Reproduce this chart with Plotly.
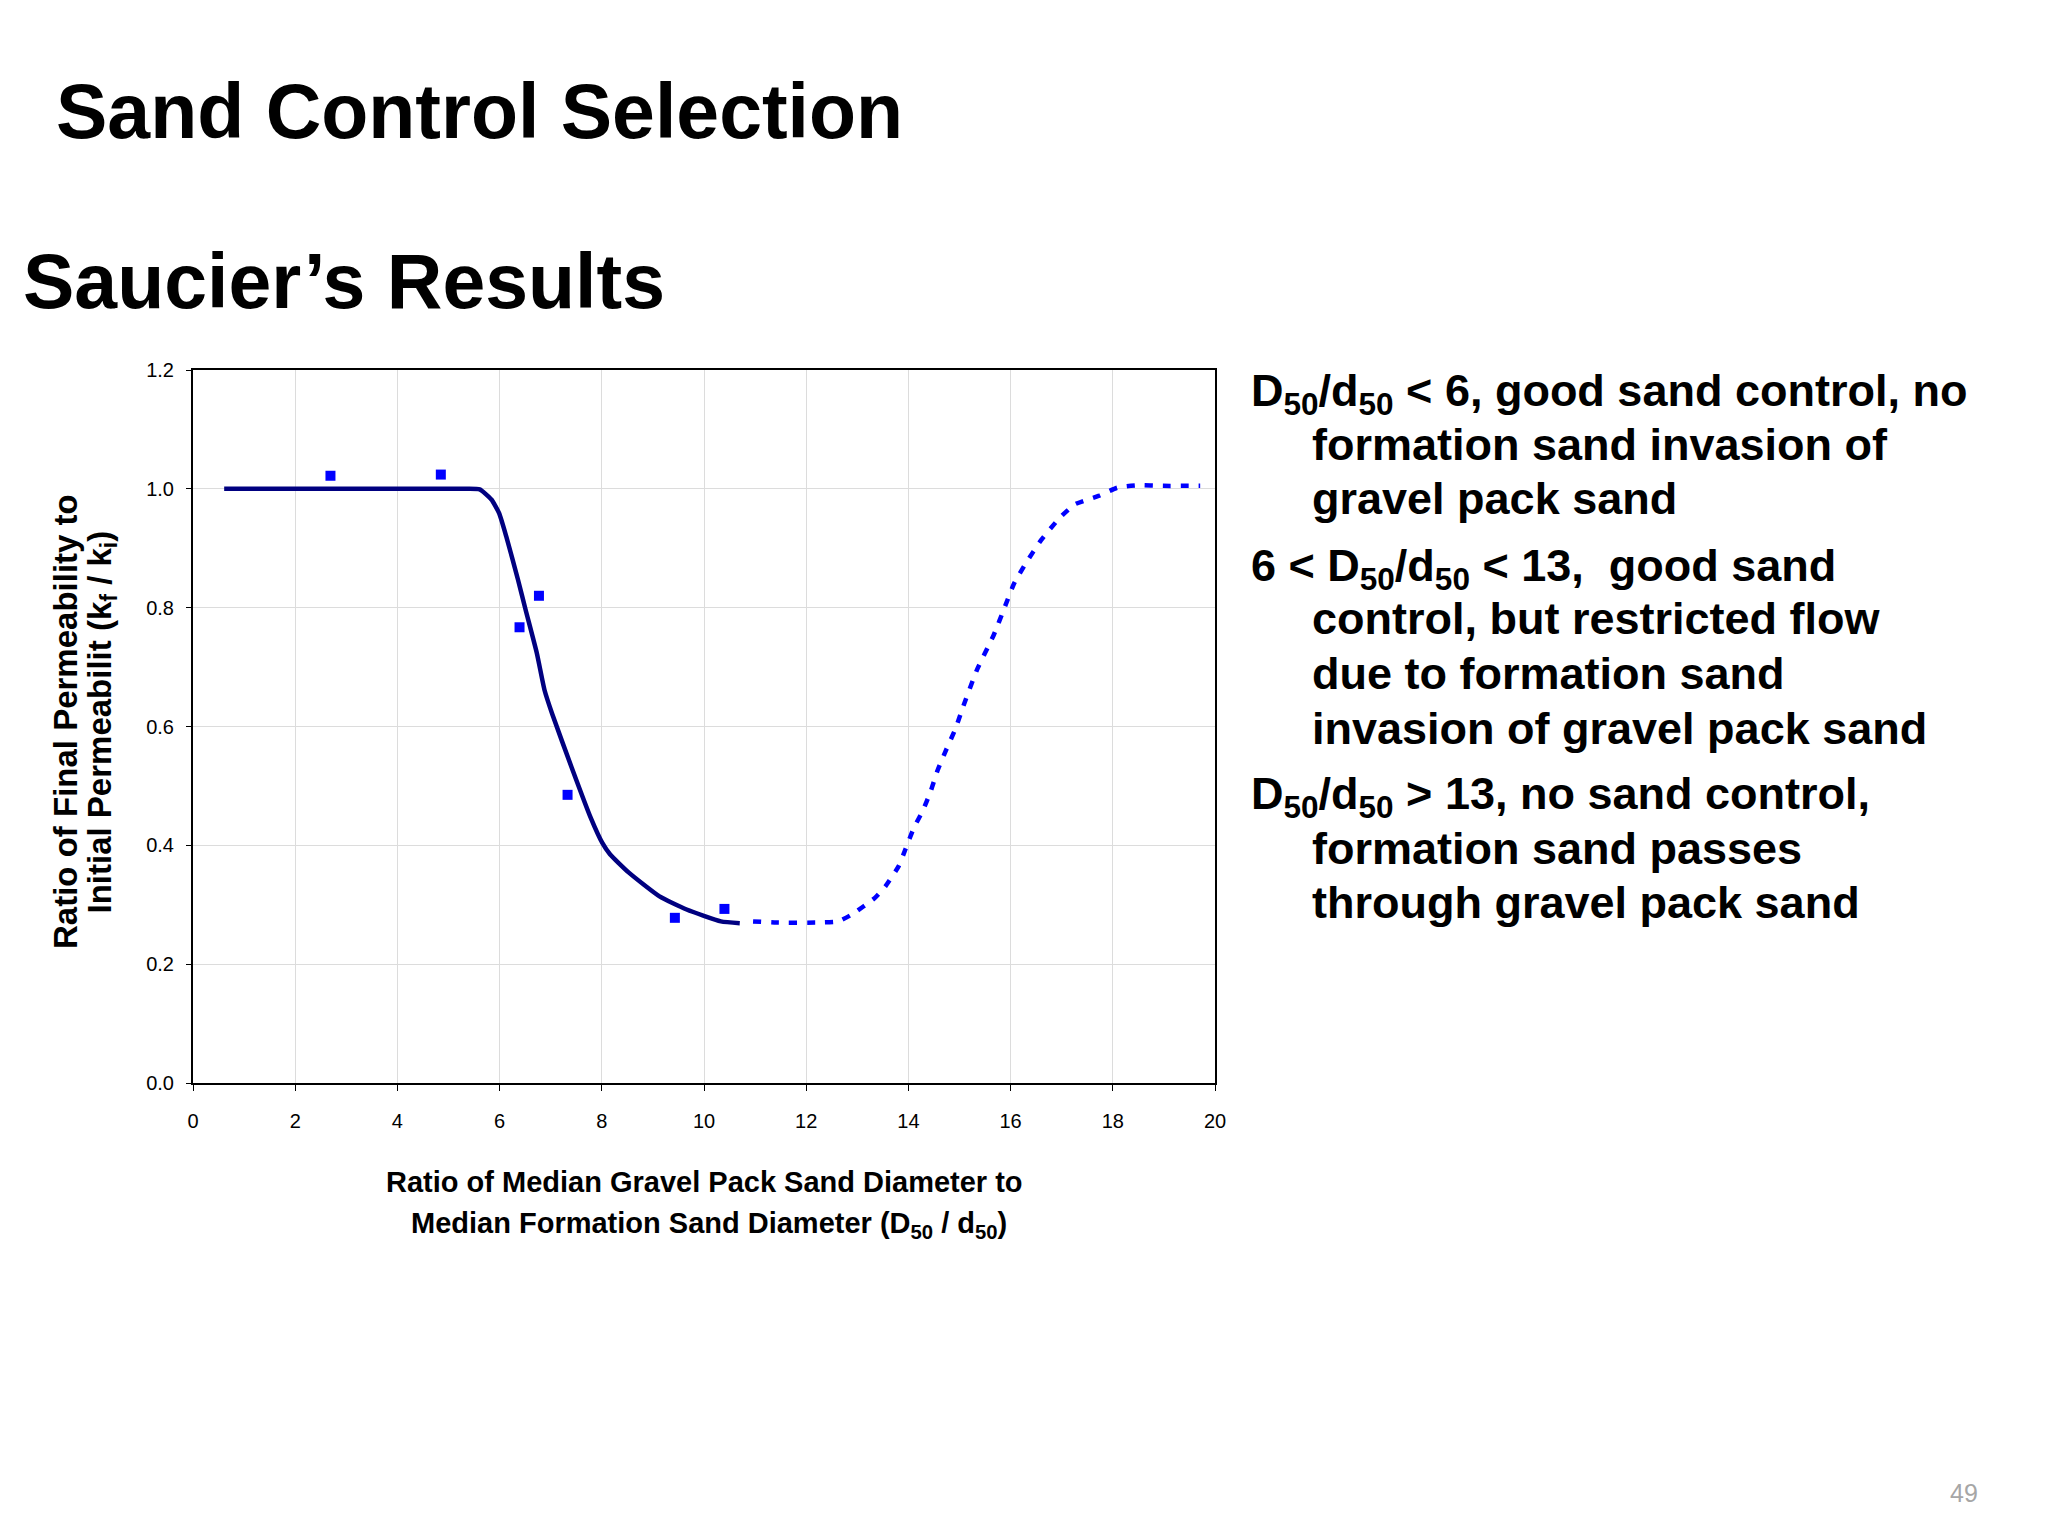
import plotly.graph_objects as go

# ---- data ----
measured_x = [2.69, 4.85, 6.39, 6.77, 7.33, 9.43, 10.40]
measured_y = [1.022, 1.024, 0.767, 0.820, 0.485, 0.278, 0.293]

fit_x = [0.61, 2.0, 4.0, 5.3, 5.61, 5.84, 5.99, 6.13, 6.36, 6.51, 6.73, 6.88, 7.03, 7.41, 7.78,
         8.01, 8.16, 8.53, 9.13, 9.66, 10.33, 10.70]
fit_y = [1.0, 1.0, 1.0, 1.0, 0.999, 0.982, 0.959, 0.92, 0.847, 0.796, 0.723, 0.661, 0.621, 0.531,
         0.447, 0.404, 0.385, 0.354, 0.314, 0.292, 0.272, 0.269]

ext_x = [10.96, 11.42, 12.22, 12.62, 12.88, 13.35, 13.55, 13.81, 13.94, 14.11, 14.28, 14.44,
         14.57, 14.72, 14.92, 15.07, 15.34, 15.67, 15.89, 16.07, 16.30, 16.60, 16.96, 17.26,
         17.72, 18.09, 18.49, 18.99, 19.38, 19.71]
ext_y = [0.272, 0.270, 0.270, 0.272, 0.283, 0.312, 0.331, 0.365, 0.393, 0.430, 0.458, 0.492,
         0.526, 0.557, 0.596, 0.633, 0.695, 0.754, 0.802, 0.841, 0.875, 0.914, 0.951, 0.974,
         0.988, 1.002, 1.006, 1.005, 1.005, 1.005]

x_ticks = [0, 2, 4, 6, 8, 10, 12, 14, 16, 18, 20]
y_ticks = [0.0, 0.2, 0.4, 0.6, 0.8, 1.0, 1.2]

title_main = "Sand Control Selection"
title_sub = "Saucier\u2019s Results"
x_title_lines = ["Ratio of Median Gravel Pack Sand Diameter to",
                 "Median Formation Sand Diameter (D<sub>50</sub> / d<sub>50</sub>)"]
y_title_lines = ["Ratio of Final Permeability to",
                 "Initial Permeabilit (k<sub>f</sub> / k<sub>i</sub>)"]
bullet_lines = [
    ("D<sub>50</sub>/d<sub>50</sub> &lt; 6, good sand control, no", 0),
    ("formation sand invasion of", 1),
    ("gravel pack sand", 1),
    ("6 &lt; D<sub>50</sub>/d<sub>50</sub> &lt; 13,\u00a0 good sand", 0),
    ("control, but restricted flow", 1),
    ("due to formation sand", 1),
    ("invasion of gravel pack sand", 1),
    ("D<sub>50</sub>/d<sub>50</sub> &gt; 13, no sand control,", 0),
    ("formation sand passes", 1),
    ("through gravel pack sand", 1),
]
page_no = "49"

# ---- layout geometry (pixels) ----
W, H = 2048, 1536
L, R, T, B = 193, 1215, 370, 1083
FONT = "Liberation Sans, Arial, sans-serif"
ASC = 0.905


def px(x):
    return (x - L) / (R - L)


def py(y):
    return (B - y) / (B - T)


fig = go.Figure()
fig.add_trace(go.Scatter(x=fit_x, y=fit_y, mode="lines",
                         line=dict(color="#000080", width=4.5, shape="spline", smoothing=0.5),
                         hoverinfo="skip"))
fig.add_trace(go.Scatter(x=ext_x, y=ext_y, mode="lines",
                         line=dict(color="#0000FF", width=4.5, shape="spline", smoothing=0.5,
                                   dash="8px,10px"),
                         hoverinfo="skip"))
fig.add_trace(go.Scatter(x=measured_x, y=measured_y, mode="markers",
                         marker=dict(symbol="square", size=10, color="#0000FF"),
                         hoverinfo="skip"))

annotations = []


def text_ann(text, x_px, baseline, size, bold=True, color="black", xanchor="left"):
    annotations.append(dict(
        text=text, xref="paper", yref="paper", x=px(x_px), y=py(baseline - ASC * size),
        xanchor=xanchor, yanchor="top", showarrow=False, borderpad=0,
        font=dict(family=FONT, size=size, color=color, weight="bold" if bold else "normal"),
    ))


text_ann(title_main, 55, 137, 77)
text_ann(title_sub, 22, 307, 77)

baselines = [405, 459, 513, 580, 633, 688, 743, 808, 863, 917]
for (txt, indent), bl in zip(bullet_lines, baselines):
    text_ann(txt, 1311 if indent else 1250, bl, 45)

# x axis title lines (centered)
text_ann(x_title_lines[0], 704.5, 1191, 29, xanchor="center")
text_ann(x_title_lines[1], 708.7, 1232, 29, xanchor="center")

# y axis title lines (rotated)
for txt, cx in zip(y_title_lines, [65.0, 101.5]):
    annotations.append(dict(
        text=txt, xref="paper", yref="paper", x=px(cx), y=py(722),
        xanchor="center", yanchor="middle", textangle=-90, showarrow=False, borderpad=0,
        font=dict(family=FONT, size=33, color="black", weight="bold"),
    ))

annotations.append(dict(
    text=page_no, xref="paper", yref="paper", x=px(1964), y=py(1493),
    xanchor="center", yanchor="middle", showarrow=False, borderpad=0,
    font=dict(family=FONT, size=25, color="#A6A6A6"),
))

fig.update_layout(
    width=W, height=H,
    margin=dict(l=L, r=W - R, t=T, b=H - B, pad=0),
    paper_bgcolor="white", plot_bgcolor="white",
    showlegend=False,
    annotations=annotations,
    font=dict(family=FONT, color="black"),
)
fig.update_xaxes(range=[0, 20], tickvals=x_ticks, ticktext=[str(v) for v in x_ticks],
                 showgrid=True, gridcolor="#DCDCDC", gridwidth=1, zeroline=False,
                 showline=True, linecolor="black", linewidth=2, mirror=True,
                 ticks="outside", ticklen=6, tickcolor="black", tickwidth=1,
                 tickfont=dict(family=FONT, size=20, color="black"),
                 ticklabelstandoff=13)
fig.update_yaxes(range=[0, 1.2], tickvals=y_ticks, ticktext=[f"{v:.1f}" for v in y_ticks],
                 showgrid=True, gridcolor="#DCDCDC", gridwidth=1, zeroline=False,
                 showline=True, linecolor="black", linewidth=2, mirror=True,
                 ticks="outside", ticklen=5, tickcolor="black", tickwidth=1,
                 tickfont=dict(family=FONT, size=20, color="black"),
                 ticklabelstandoff=8)

fig.write_html("out.html", config={"displayModeBar": False},
               post_script="document.body.style.margin='0';")
